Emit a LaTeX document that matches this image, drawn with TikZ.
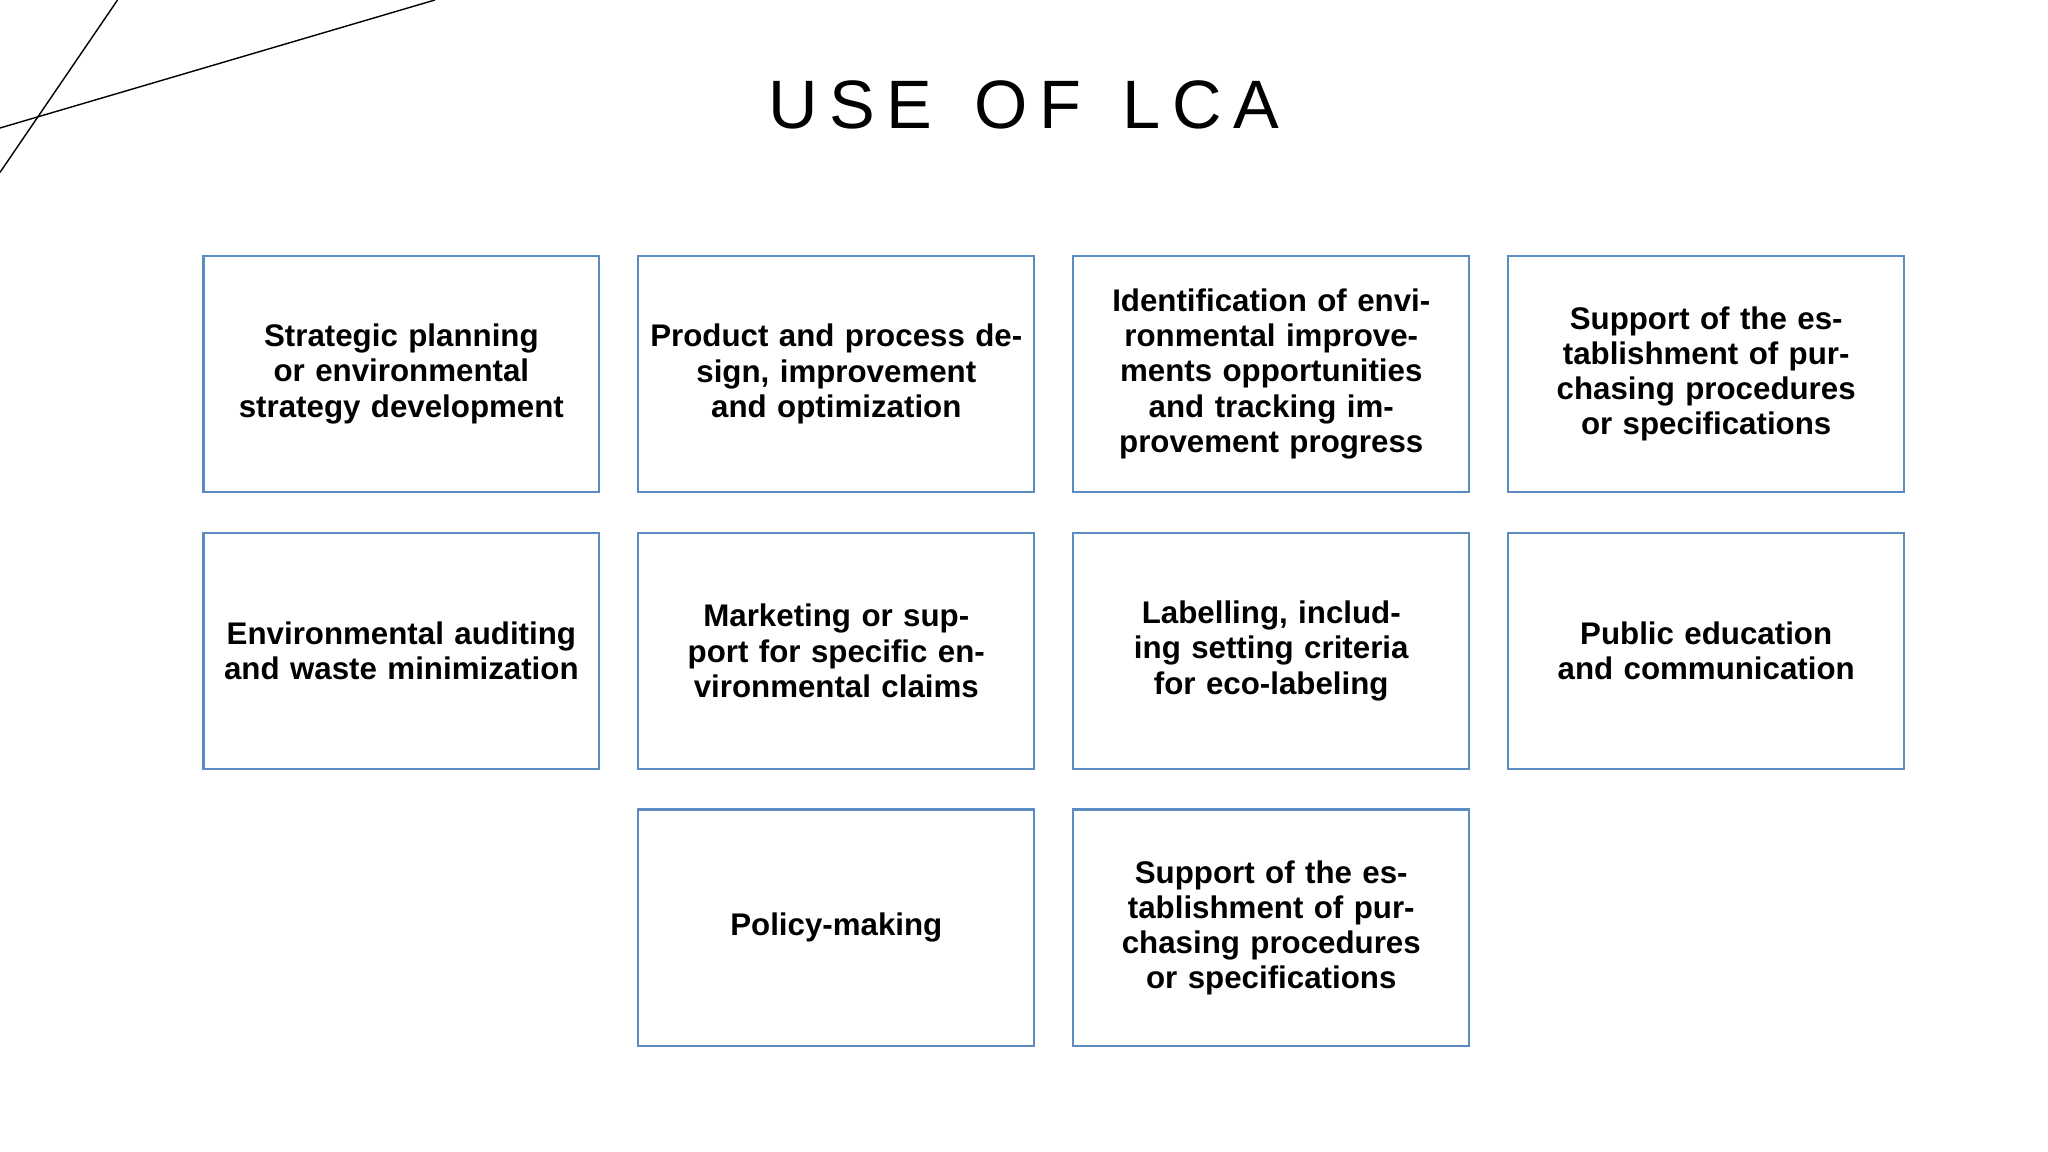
\documentclass[tikz,border=0pt]{standalone}
\usepackage{fontspec}
\setmainfont{Liberation Sans}
\begin{document}
\begin{tikzpicture}[x=0.013061cm,y=-0.013061cm,
  box/.style={draw=boxblue,line width=0.6pt,minimum width=303*0.013061cm,minimum height=181*0.013061cm,align=center,
    font=\fontsize{8.9}{10}\selectfont\bfseries,text width=290*0.013061cm,inner sep=0pt,anchor=north west}]
\definecolor{boxblue}{HTML}{5B8CC2}
\useasboundingbox (0,0) rectangle (1568,882);
\draw[line width=0.4pt] (90,0) -- (0,132);
\draw[line width=0.4pt] (333,0) -- (0,98);
\node[font=\fontsize{19.5}{22}\selectfont,text=black] (title) at (784,80) {U\,S\,E\, \,O\,F\, \,L\,C\,A};
\node[box] (a1) at (155,195) {Strategic planning or environmental strategy development};
\node[box] (a2) at (488,195) {Product and process design, improvement and optimization};
\node[box] (a3) at (821,195) {Identification of environmental improvements opportunities\\ and tracking improvement progress};
\node[box] (a4) at (1154,195) {Support of the establishment of purchasing procedures or specifications};
\node[box] (b1) at (155,407) {Environmental auditing and waste minimization};
\node[box] (b2) at (488,407) {Marketing or support for specific environmental claims};
\node[box] (b3) at (821,407) {Labelling, including setting criteria for eco-labeling};
\node[box] (b4) at (1154,407) {Public education and communication};
\node[box] (c2) at (488,619) {Policy-making};
\node[box] (c3) at (821,619) {Support of the establishment of purchasing procedures or specifications};
\end{tikzpicture}
\end{document}
